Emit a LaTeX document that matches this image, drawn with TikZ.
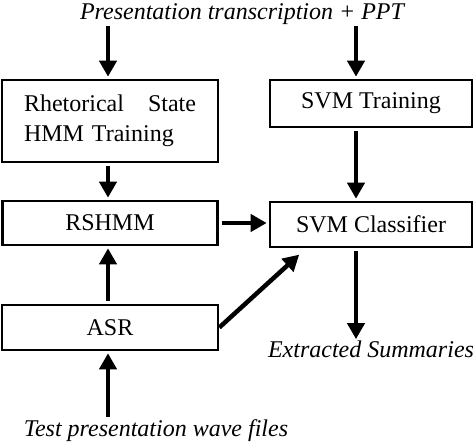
\documentclass[tikz,border=0pt]{standalone}
\usepackage{fontspec}
\setmainfont{Liberation Serif}
\usetikzlibrary{arrows.meta}
\begin{document}
\begin{tikzpicture}[x=1pt, y=-1pt,
    box/.style={draw, line width=2.6pt, rectangle, inner sep=0pt, font=\fontsize{24}{30}\selectfont},
    note/.style={inner sep=0pt, font=\fontsize{24}{30}\selectfont\itshape},
    flow/.style={line width=4.5pt, -{Triangle[width=17pt,length=16pt]}, shorten <=3pt, shorten >=2pt}]
    \useasboundingbox (0,0) rectangle (474,443);

    % Arrow columns
    \coordinate (lcol) at (108,0);
    \coordinate (rcol) at (356,0);

    % Input and output texts
    \node[note, anchor=base] (ptext) at (242,20) {Presentation transcription + PPT};
    \node[note, anchor=base] (summ) at (371,358) {Extracted Summaries};
    \node[note, anchor=base] (wave) at (156,437) {Test presentation wave files};

    % Processing boxes
    \node[box, minimum width=216pt, minimum height=82pt, text width=172pt, align=left] (rhet) at (110,121) {Rhetorical\hfill State\\HMM Training};
    \node[box, minimum width=202pt, minimum height=47pt] (svmt) at (371,103.5) {SVM Training};
    \node[box, minimum width=215pt, minimum height=44pt] (rshmm) at (110,223) {RSHMM};
    \node[box, minimum width=202pt, minimum height=45pt] (svmc) at (371,224.5) {SVM Classifier};
    \node[box, minimum width=216pt, minimum height=45pt] (asr) at (110,327.5) {ASR};

    % Connectors
    \draw[flow, shorten <=1pt] (ptext.south -| lcol) -- (rhet.north -| lcol);
    \draw[flow, shorten <=1pt] (ptext.south -| rcol) -- (svmt.north -| rcol);
    \draw[flow] (rhet.south -| lcol) -- (rshmm.north -| lcol);
    \draw[flow] (svmt.south -| rcol) -- (svmc.north -| rcol);
    \draw[flow] (rshmm.east) -- (rshmm.east -| svmc.west);
    \draw[flow] (asr.north -| lcol) -- (rshmm.south -| lcol);
    \draw[flow, shorten <=0pt] (asr.east) -- ([xshift=32pt,yshift=-5pt]svmc.south west);
    \draw[flow] (svmc.south -| rcol) -- (summ.north -| rcol);
    \draw[flow] (wave.north -| lcol) -- (asr.south -| lcol);
\end{tikzpicture}
\end{document}
